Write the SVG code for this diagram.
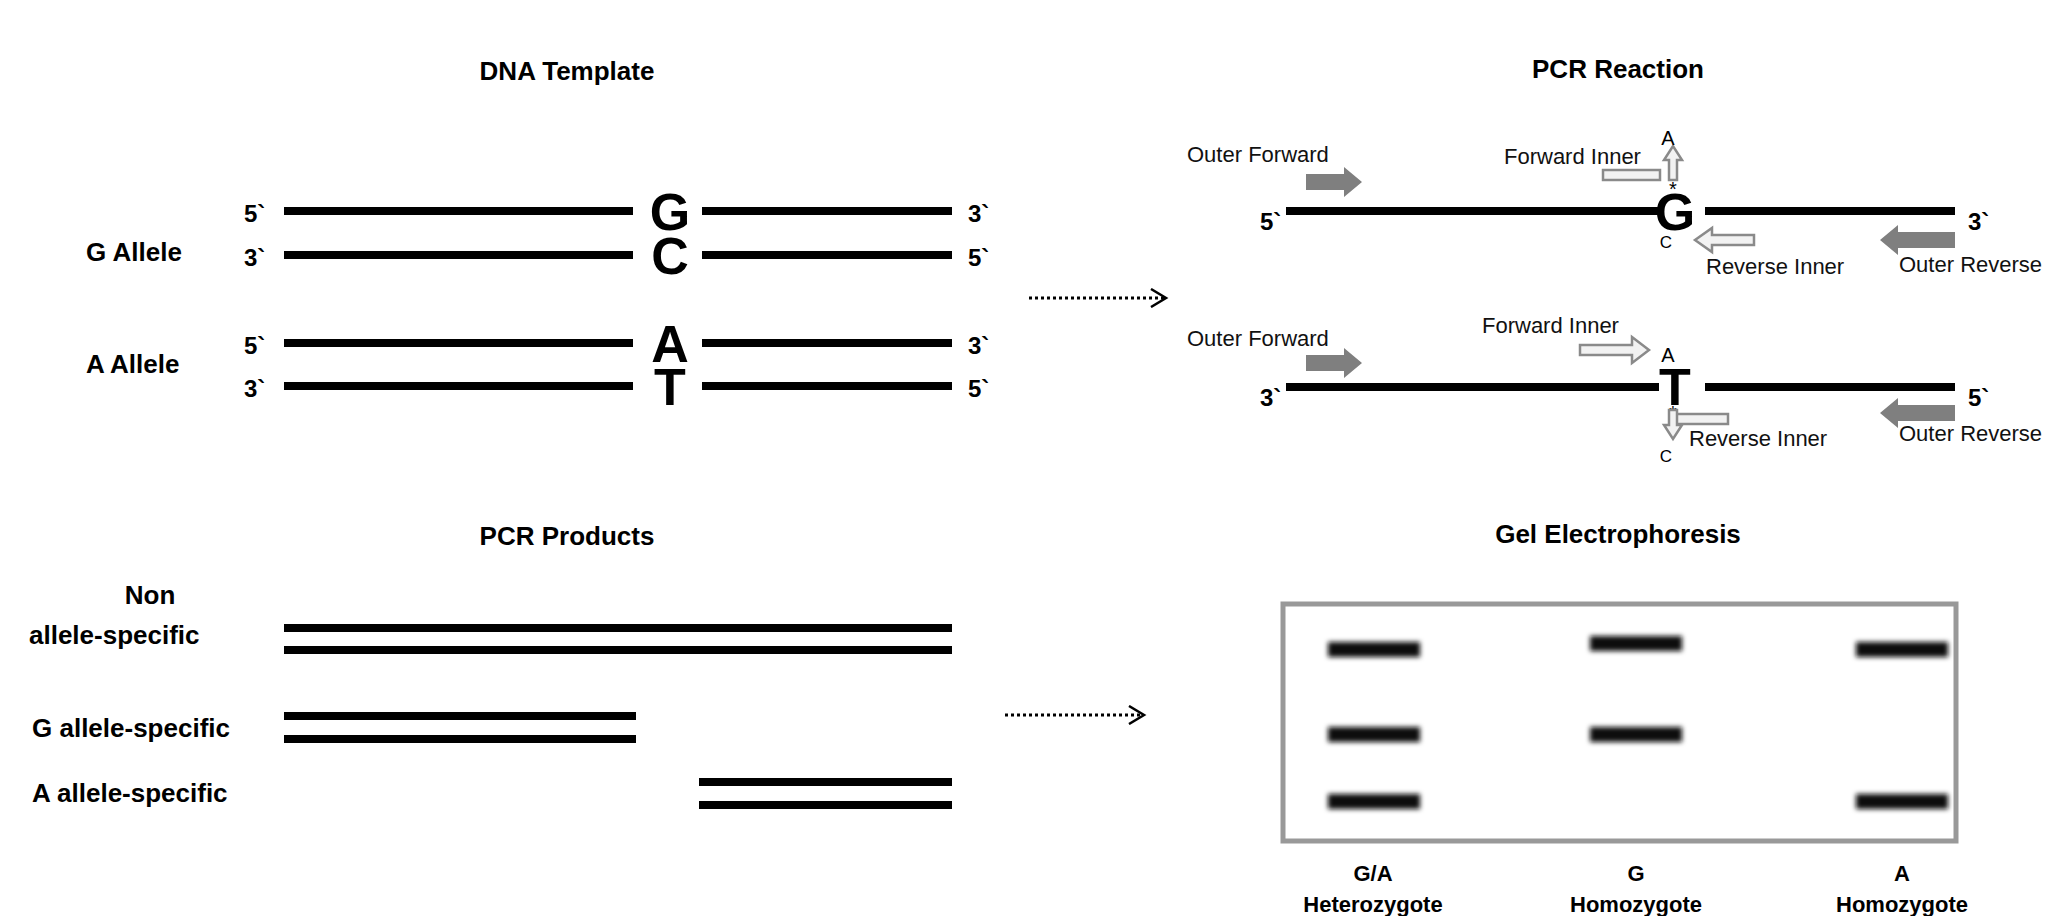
<svg xmlns="http://www.w3.org/2000/svg" width="2068" height="916" viewBox="0 0 2068 916">
<defs>
<filter id="blur" x="-20%" y="-100%" width="140%" height="300%"><feGaussianBlur stdDeviation="2.5"/></filter>
<marker id="chev" markerWidth="20" markerHeight="20" refX="16" refY="10" orient="auto" markerUnits="userSpaceOnUse"><path d="M2,1 L17,10 L2,19" fill="none" stroke="#000" stroke-width="2.5"/></marker>
</defs>
<style>
.t{font-family:"Liberation Sans",Arial,sans-serif;font-weight:bold;font-size:26px;fill:#000}
.p{font-family:"Liberation Sans",Arial,sans-serif;font-weight:bold;font-size:24px;fill:#000}
.q{font-family:"Liberation Sans",Arial,sans-serif;font-weight:bold;font-size:22px;fill:#000}
.big{font-family:"Liberation Sans",Arial,sans-serif;font-weight:bold;font-size:52px;fill:#000;text-anchor:middle}
.n{font-family:"Liberation Sans",Arial,sans-serif;font-size:22px;fill:#111}
.s{font-family:"Liberation Sans",Arial,sans-serif;font-size:20px;fill:#000;text-anchor:middle}
.ln{stroke:#000;stroke-width:8}
.g{fill:#7f7f7f}
.h{fill:#f2f2f2;stroke:#8a8a8a;stroke-width:2.5}
.band{fill:#111;filter:url(#blur)}
.c{text-anchor:middle}
</style>
<g id="titles">
<text class="t c" x="567" y="80">DNA Template</text>
<text class="t c" x="1618" y="78">PCR Reaction</text>
<text class="t c" x="567" y="545">PCR Products</text>
<text class="t c" x="1618" y="543">Gel Electrophoresis</text>
</g>
<g id="dna-template">
<text class="t" x="86" y="261">G Allele</text>
<text class="t" x="86" y="373">A Allele</text>
<text class="p" x="244" y="222">5`</text><text class="p" x="244" y="266">3`</text>
<text class="p" x="244" y="354">5`</text><text class="p" x="244" y="397">3`</text>
<text class="p" x="968" y="222">3`</text><text class="p" x="968" y="266">5`</text>
<text class="p" x="968" y="354">3`</text><text class="p" x="968" y="397">5`</text>
<line class="ln" x1="284" y1="211" x2="633" y2="211"/><line class="ln" x1="702" y1="211" x2="952" y2="211"/>
<line class="ln" x1="284" y1="255" x2="633" y2="255"/><line class="ln" x1="702" y1="255" x2="952" y2="255"/>
<line class="ln" x1="284" y1="343" x2="633" y2="343"/><line class="ln" x1="702" y1="343" x2="952" y2="343"/>
<line class="ln" x1="284" y1="386" x2="633" y2="386"/><line class="ln" x1="702" y1="386" x2="952" y2="386"/>
<text class="big" x="670" y="230">G</text><text class="big" x="670" y="274">C</text>
<text class="big" x="670" y="362">A</text><text class="big" x="670" y="405">T</text>
</g>
<g id="connectors">
<line x1="1029" y1="298" x2="1165" y2="298" stroke="#000" stroke-width="3" stroke-dasharray="3,3" marker-end="url(#chev)"/>
<line x1="1005" y1="715" x2="1143" y2="715" stroke="#000" stroke-width="3" stroke-dasharray="3,3" marker-end="url(#chev)"/>
</g>
<g id="pcr-g">
<text class="n" x="1187" y="162">Outer Forward</text>
<polygon class="g" points="1306,174 1344,174 1344,167 1362,182 1344,197 1344,190 1306,190"/>
<text class="n" x="1504" y="164">Forward Inner</text>
<polygon class="h" points="1603,170 1660,170 1660,180 1603,180"/>
<polygon class="h" points="1669,180 1669,160 1664,160 1673,146 1682,160 1677,160 1677,180"/>
<text class="s" x="1668" y="145">A</text>
<text class="s" x="1673" y="196">*</text>
<line class="ln" x1="1286" y1="211" x2="1659" y2="211"/><line class="ln" x1="1705" y1="211" x2="1955" y2="211"/>
<text class="p" x="1260" y="230">5`</text>
<text class="big" x="1675" y="230">G</text>
<text class="p" x="1968" y="230">3`</text>
<text class="s" x="1666" y="248" style="font-size:17px">C</text>
<polygon class="h" points="1754,235 1712,235 1712,228 1695,240 1712,252 1712,245 1754,245"/>
<text class="n" x="1706" y="274">Reverse Inner</text>
<polygon class="g" points="1955,232 1898,232 1898,225 1880,240 1898,255 1898,248 1955,248"/>
<text class="n" x="1899" y="272">Outer Reverse</text>
</g>
<g id="pcr-a">
<text class="n" x="1187" y="346">Outer Forward</text>
<polygon class="g" points="1306,355 1344,355 1344,348 1362,363 1344,378 1344,371 1306,371"/>
<text class="n" x="1482" y="333">Forward Inner</text>
<polygon class="h" points="1580,345 1632,345 1632,337 1649,350 1632,363 1632,355 1580,355"/>
<text class="s" x="1668" y="362">A</text>
<line class="ln" x1="1286" y1="387" x2="1659" y2="387"/><line class="ln" x1="1705" y1="387" x2="1955" y2="387"/>
<text class="p" x="1260" y="406">3`</text>
<text class="big" x="1675" y="405">T</text>
<text class="p" x="1968" y="406">5`</text>
<text class="s" x="1673" y="420">*</text>
<polygon class="h" points="1728,414 1675,414 1675,424 1728,424"/>
<polygon class="h" points="1669,410 1669,425 1664,425 1673,439 1682,425 1677,425 1677,410"/>
<text class="n" x="1689" y="446">Reverse Inner</text>
<text class="s" x="1666" y="462" style="font-size:17px">C</text>
<polygon class="g" points="1955,405 1898,405 1898,398 1880,413 1898,428 1898,421 1955,421"/>
<text class="n" x="1899" y="441">Outer Reverse</text>
</g>
<g id="pcr-products">
<text class="t c" x="150" y="604">Non</text>
<text class="t" x="29" y="644">allele-specific</text>
<line class="ln" x1="284" y1="628" x2="952" y2="628"/><line class="ln" x1="284" y1="650" x2="952" y2="650"/>
<text class="t" x="32" y="737">G allele-specific</text>
<line class="ln" x1="284" y1="716" x2="636" y2="716"/><line class="ln" x1="284" y1="739" x2="636" y2="739"/>
<text class="t" x="32" y="802">A allele-specific</text>
<line class="ln" x1="699" y1="782" x2="952" y2="782"/><line class="ln" x1="699" y1="805" x2="952" y2="805"/>
</g>
<g id="gel">
<rect x="1283" y="604" width="673" height="237" fill="#fff" stroke="#999" stroke-width="5"/>
<rect class="band" x="1328" y="642" width="92" height="15"/>
<rect class="band" x="1328" y="727" width="92" height="15"/>
<rect class="band" x="1328" y="794" width="92" height="15"/>
<rect class="band" x="1590" y="636" width="92" height="15"/>
<rect class="band" x="1590" y="727" width="92" height="15"/>
<rect class="band" x="1856" y="642" width="92" height="15"/>
<rect class="band" x="1856" y="794" width="92" height="15"/>
<text class="q c" x="1373" y="881">G/A</text>
<text class="q c" x="1373" y="912">Heterozygote</text>
<text class="q c" x="1636" y="881">G</text>
<text class="q c" x="1636" y="912">Homozygote</text>
<text class="q c" x="1902" y="881">A</text>
<text class="q c" x="1902" y="912">Homozygote</text>
</g>
</svg>
